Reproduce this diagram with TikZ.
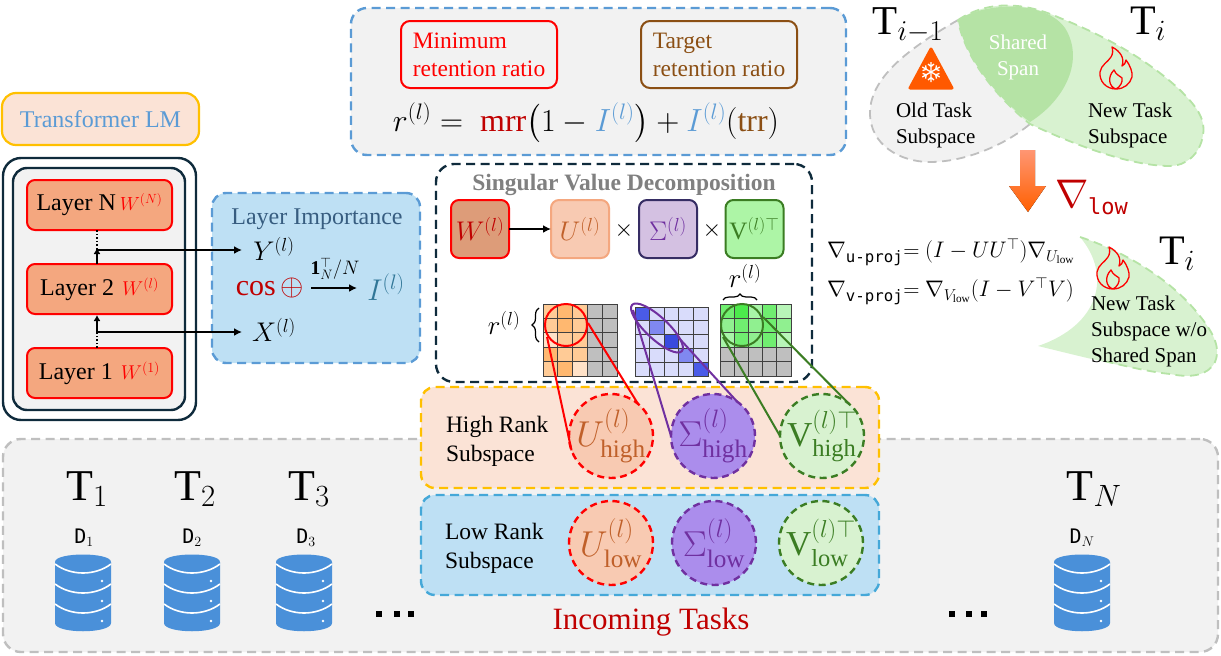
\RequirePackage{fix-cm}
\documentclass[tikz,border=0pt]{standalone}
\usepackage{amsmath}
\usepackage{amssymb}
\usepackage{fontspec}
\setmainfont{Liberation Serif}
\setmonofont{DejaVu Sans Mono}
\usetikzlibrary{arrows.meta,decorations.pathreplacing,shadings}

\definecolor{navy}{HTML}{0F2B3C}
\definecolor{panel}{HTML}{F2F2F2}
\definecolor{gold}{HTML}{FFC000}
\definecolor{peach}{HTML}{FBE3D6}
\definecolor{sky}{HTML}{BEE0F4}
\definecolor{dashblue}{HTML}{5B9BD5}
\definecolor{cyanb}{HTML}{45A8D8}
\definecolor{layerfill}{HTML}{F4A77F}
\definecolor{dred}{HTML}{C00000}
\definecolor{brn}{HTML}{8B4F14}
\definecolor{ublue}{HTML}{5B9BD5}
\definecolor{uor}{HTML}{C0602A}
\definecolor{purp}{HTML}{7030A0}
\definecolor{lav}{HTML}{AB8DEC}
\definecolor{grn}{HTML}{3B7D23}
\definecolor{lgreen}{HTML}{D8F2D0}
\definecolor{mgreen}{HTML}{B5E3A5}
\definecolor{dbblue}{HTML}{4A90D9}
\definecolor{gridgray}{HTML}{BFBFBF}
\definecolor{oa}{HTML}{FFCB96}
\definecolor{ob}{HTML}{FFB870}
\definecolor{oc}{HTML}{FFE2C8}
\definecolor{pa}{HTML}{4A5BE8}
\definecolor{pb}{HTML}{8088F0}
\definecolor{pc}{HTML}{3A4BE0}
\definecolor{pl}{HTML}{D9DCFB}
\definecolor{ga}{HTML}{70EE70}
\definecolor{gb}{HTML}{4CEB4C}
\definecolor{gc}{HTML}{A8F5A8}
\definecolor{gd}{HTML}{B8F5B8}
\definecolor{ge}{HTML}{90F090}

\newcommand{\fsz}[1]{\fontsize{#1}{#1}\selectfont}

\tikzset{
  box/.style={draw,rounded corners=#1,inner sep=0pt,outer sep=0pt,anchor=center,align=center},
  box/.default=9pt,
  dsh/.style={line width=2.4pt,dash pattern=on 9pt off 5.5pt},
  txt/.style={inner sep=0pt,outer sep=0pt,font=\fontsize{21}{26}\selectfont,align=left},
  rank/.style={inner sep=0pt,outer sep=0pt,font=\fontsize{23.5}{29}\selectfont,align=left,anchor=west},
  ratio/.style={box=9pt,line width=2pt,minimum width=156pt,minimum height=67pt,font=\fontsize{23.5}{28}\selectfont,align=left},
  big/.style={inner sep=0pt,font=\fsz{44}},
  layer/.style={box=8pt,draw=red,fill=layerfill,line width=2pt,minimum width=145pt,minimum height=50pt,font=\fsz{24}},
  mat/.style={box=8pt,line width=2pt,minimum width=58pt,minimum height=58pt,font=\fsz{27}},
  sub/.style={circle,draw=#1,dsh,dash pattern=on 7pt off 4.5pt,inner sep=-16pt,outer sep=0pt,minimum size=84pt,font=\fsz{36}},
  arr/.style={-{Latex[length=8pt,width=8pt]},line width=1.6pt},
  db/.pic={
    \fill[dbblue] (-28,-1) -- (-28,60) .. controls (-28,71) and (28,71) .. (28,60) -- (28,-1)
       .. controls (28,-11) and (-28,-11) .. (-28,-1) -- cycle;
    \foreach \s in {1,21,41} {
      \draw[white,line width=1.6pt] (-28,\s) .. controls (-12,\s+12) and (12,\s+12) .. (28,\s);
      \fill[white] (19,\s+17) circle (1.3pt);
    }
  },
  flame/.pic={
    \draw[red,line width=1.3pt,line join=round] (0,21) .. controls (-10,21) and (-17,13) .. (-16,4)
      .. controls (-15,-3) and (-8,-6) .. (-5,-11) .. controls (-3,-14) and (-3,-18) .. (-4,-21)
      .. controls (4,-17) and (9,-10) .. (6,-2) .. controls (8,-3) and (10,-5) .. (10,-8)
      .. controls (14,-3) and (17,5) .. (16,9) .. controls (14,16) and (8,21) .. (0,21)
      .. controls (-7,19) and (-9,9) .. (-2,2) .. controls (0,7) and (4,8) .. (6,10)
      .. controls (7,14) and (4,19) .. (0,21);
  },
}

\begin{document}
\begin{tikzpicture}[x=1pt,y=-1pt]
\useasboundingbox (0,0) rectangle (1221,656);

% incoming tasks panel
\node[box=18pt,draw=gridgray,fill=panel,dsh,minimum width=1215pt,minimum height=213pt] (tasks) at (610.5,545.5) {};
\node[font=\fsz{31},text=dred,inner sep=0pt] (inc) at (651,622) {Incoming Tasks};
\node[big] (t1) at (87,489) {$\mathrm{T}_1$};
\node[big] (t2) at (195,489) {$\mathrm{T}_2$};
\node[big] (t3) at (309,489) {$\mathrm{T}_3$};
\node[big] (tn) at (1094,489) {$\mathrm{T}_N$};
\node[inner sep=0pt,font=\fsz{20}] (d1) at (84,538) {$\mathtt{D}_1$};
\node[inner sep=0pt,font=\fsz{20}] (d2) at (192,538) {$\mathtt{D}_2$};
\node[inner sep=0pt,font=\fsz{20}] (d3) at (306,538) {$\mathtt{D}_3$};
\node[inner sep=0pt,font=\fsz{20}] (dn) at (1082,538) {$\mathtt{D}_N$};
\pic at (83,563) {db};
\pic at (192,563) {db};
\pic at (304,563) {db};
\pic at (1082,563) {db};
\foreach \x in {376,394,408} \fill (\x,610.5) rectangle +(5.5,6.5);
\foreach \x in {949,966,981} \fill (\x,610.5) rectangle +(5.5,6.5);

% transformer
\node[box=14pt,draw=gold,fill=peach,line width=2.2pt,minimum width=197pt,minimum height=52pt,font=\fsz{24},text=ublue] (lm) at (100.5,119) {Transformer LM};
\node[box=18pt,draw=navy,fill=white,line width=2.4pt,minimum width=193pt,minimum height=262pt] (outer) at (99.5,289) {};
\node[box=14pt,draw=navy,fill=panel,line width=2.4pt,minimum width=172pt,minimum height=242pt] (inner) at (99,289) {};
\node[layer] (ln) at (99.5,205) {Layer N\,{\fsz{19}\textcolor{red}{$W^{(N)}$}}};
\node[layer] (l2) at (99.5,289) {Layer 2\,\,{\fsz{20}\textcolor{red}{$W^{(l)}$}}};
\node[layer] (l1) at (99.5,373) {Layer 1\,\,{\fsz{20}\textcolor{red}{$W^{(1)}$}}};

% layer importance
\node[box=14pt,draw=dashblue,fill=sky,dsh,minimum width=208pt,minimum height=170pt] (imp) at (316,278) {};
\node[font=\fsz{24},text=ublue!60!black,inner sep=0pt] (impt) at (317,219) {Layer Importance};
\node[inner sep=0pt,font=\fsz{27}] (yl) at (274,249) {$Y^{(l)}$};
\node[inner sep=0pt,font=\fsz{27}] (xl) at (274,330) {$X^{(l)}$};
\node[inner sep=0pt,font=\fsz{30},text=dred] (cs) at (270,288) {$\cos\oplus$};
\node[inner sep=0pt,font=\fsz{30},text=cyanb!70!black] (il) at (386,287) {$I^{(l)}$};
\coordinate (ca) at (311,288);
\coordinate (cb) at (357,288);
\node[inner sep=0pt,font=\fsz{19.5}] (oneN) at (335,269) {$\mathbf{1}_N^{\top}/N$};

\coordinate (y0) at (97,250);
\coordinate (x0) at (97,332);
\coordinate (yup) at (97,248);
\coordinate (xup) at (97,315);
\coordinate (yend) at (242,250);
\coordinate (xend) at (242,332);
\draw[line width=1.6pt,dotted] (ln.south -| y0) -- (y0);
\draw[line width=1.6pt,dotted] (l1.north -| x0) -- (x0);
\draw[-{Latex[length=6pt,width=7pt]},line width=1.4pt] (l2.north -| y0) -- (yup);
\draw[-{Latex[length=6pt,width=7pt]},line width=1.4pt] (x0) -- (xup);
\draw[arr] (y0) -- (yend);
\draw[arr] (x0) -- (xend);
\draw[arr] (ca) -- (cb);

% retention ratio panel
\node[box=16pt,draw=dashblue,fill=panel,dsh,minimum width=495pt,minimum height=147pt] (ret) at (598.5,81.5) {};
\node[ratio,draw=red,text=red] (mrr) at (479,54.5) {Minimum\\retention ratio};
\node[ratio,draw=brn,text=brn] (trr) at (719,54.5) {Target\\retention ratio};
\node[inner sep=0pt,font=\fsz{32}] (eq) at (586,123) {$r^{(l)} =\ \textcolor{dred}{\mathrm{mrr}}\bigl(1-\textcolor{ublue}{I^{(l)}}\bigr)+\textcolor{ublue}{I^{(l)}}(\textcolor{brn}{\mathrm{trr}})$};

% svd panel
\node[box=18pt,draw=navy,fill=white,dsh,minimum width=376pt,minimum height=218pt] (svd) at (624,273) {};
\node[font=\fsz{23.5}\bfseries,text=gray,inner sep=0pt] (svdt) at (624,185) {Singular Value Decomposition};
\node[mat,draw=red,fill=layerfill!90!black!95,text=dred] (mw) at (480,229) {$W^{(l)}$};
\node[mat,draw=layerfill,fill=layerfill!60,text=uor] (mu) at (580,229) {$U^{(l)}$};
\node[mat,draw=navy!60!purp,fill=purp!30,text=purp] (ms) at (668,229) {$\Sigma^{(l)}$};
\node[mat,draw=grn,fill=green!20!lgreen,text=grn,font=\fsz{25}] (mv) at (754.5,229) {$\mathrm{V}^{(l)\top}$};
\node[inner sep=0pt,font=\fsz{24}] (x1) at (624,230) {$\times$};
\node[inner sep=0pt,font=\fsz{24}] (x2) at (712,230) {$\times$};
\draw[arr] (mw) -- (mu);

% grids
\foreach \cx/\ry/\col in {0/0/oa,1/0/ob,2/0/oa,0/1/oa,1/1/ob,2/1/oa,0/2/oc,1/2/oa,2/2/oa,0/3/ob,1/3/oa,2/3/oa,0/4/oa,1/4/ob,2/4/oc,3/0/gridgray,4/0/gridgray,3/1/gridgray,4/1/gridgray,3/2/gridgray,4/2/gridgray,3/3/gridgray,4/3/gridgray,3/4/gridgray,4/4/gridgray}
  \fill[\col] (543+14.8*\cx,304+14.4*\ry) rectangle +(14.8,14.4);
\draw[black!75,line width=.8pt] (543,304) rectangle (617,376);
\foreach \i in {1,...,4} {
  \draw[black!75,line width=.8pt] (543+14.8*\i,304) -- (543+14.8*\i,376);
  \draw[black!75,line width=.8pt] (543,304+14.4*\i) -- (617,304+14.4*\i);
}
\fill[pl] (635,307) rectangle (708,376);
\foreach \i/\col in {0/pa,1/pb,2/pc,3/pb,4/pa}
  \fill[\col] (635+14.6*\i,307+13.8*\i) rectangle +(14.6,13.8);
\draw[black!75,line width=.8pt] (635,307) rectangle (708,376);
\foreach \i in {1,...,4} {
  \draw[black!75,line width=.8pt] (635+14.6*\i,307) -- (635+14.6*\i,376);
  \draw[black!75,line width=.8pt] (635,307+13.8*\i) -- (708,307+13.8*\i);
}
\foreach \cx/\ry/\col in {0/0/ga,1/0/gb,2/0/gc,3/0/ga,4/0/gd,0/1/ge,1/1/ga,2/1/ge,3/1/ga,4/1/ge,0/2/gc,1/2/ga,2/2/ge,3/2/ga,4/2/gd}
  \fill[\col] (720+14.2*\cx,304+14.4*\ry) rectangle +(14.2,14.4);
\fill[gridgray] (720,347.2) rectangle (791,376);
\draw[black!75,line width=.8pt] (720,304) rectangle (791,376);
\foreach \i in {1,...,4} {
  \draw[black!75,line width=.8pt] (720+14.2*\i,304) -- (720+14.2*\i,376);
  \draw[black!75,line width=.8pt] (720,304+14.4*\i) -- (791,304+14.4*\i);
}
\node[inner sep=0pt,font=\fsz{27}] (rl) at (504,323) {$r^{(l)}$};
\node[inner sep=0pt,font=\fsz{27}] (rt) at (745,276) {$r^{(l)}$};
\draw[line width=1.2pt,decorate,decoration={brace,amplitude=7pt}] (539,342) -- (539,308);
\draw[line width=1.2pt,decorate,decoration={brace,amplitude=6pt}] (723,300) -- (757,300);

% subspace rows
\node[box=14pt,draw=gold,fill=peach,dsh,minimum width=458pt,minimum height=101pt] (high) at (650,437.5) {};
\node[box=14pt,draw=cyanb,fill=sky,dsh,minimum width=458pt,minimum height=100pt] (low) at (650,545) {};
\node[rank] (ht) at (446,441) {High Rank\\Subspace};
\node[rank] (lt) at (445,548) {Low Rank\\Subspace};
\node[sub=red,fill=layerfill!60,text=uor] (uh) at (611,436) {$U^{(l)}_{\mathrm{high}}$};
\node[sub=purp,fill=lav,text=purp] (sh) at (713,436) {$\Sigma^{(l)}_{\mathrm{high}}$};
\node[sub=grn,fill=lgreen,text=grn,font=\fsz{35}] (vh) at (822,436) {$\mathrm{V}^{(l)\top}_{\mathrm{high}}$};
\node[sub=red,fill=layerfill!60,text=uor] (ul) at (611,543) {$U^{(l)}_{\mathrm{low}}$};
\node[sub=purp,fill=lav,text=purp] (sl) at (714,543) {$\Sigma^{(l)}_{\mathrm{low}}$};
\node[sub=grn,fill=lgreen,text=grn,font=\fsz{35}] (vl) at (821,543) {$\mathrm{V}^{(l)\top}_{\mathrm{low}}$};

% rank circles and their leaders
\coordinate (cu) at (566,325);
\coordinate (cs1) at (657,328);
\coordinate (cv) at (742,325);
\coordinate (ua) at (547,337);
\coordinate (ub) at (588,323);
\coordinate (sa) at (633,310);
\coordinate (sb) at (678,337);
\coordinate (va) at (723,337);
\coordinate (vb) at (763,317);
\draw[red,line width=2pt] (cu) circle (21pt);
\draw[purp,line width=2pt,rotate around={-43:(cs1)}] (cs1) ellipse (34pt and 11pt);
\draw[grn,line width=2pt] (cv) circle (21pt);
\draw[red,line width=2pt] (ua) -- (uh.200);
\draw[red,line width=2pt] (ub) -- (uh.50);
\draw[purp,line width=2pt] (sa) -- (sh.180);
\draw[purp,line width=2pt] (sb) -- (sh.55);
\draw[grn,line width=2pt] (va) -- (vh.180);
\draw[grn,line width=2pt] (vb) -- (vh.50);

% task subspaces
\draw[gridgray,fill=panel,dsh,line width=1.8pt] (958,20) .. controls (915,45) and (870,75) .. (870,113)
   .. controls (870,145) and (900,162) .. (930,162) .. controls (965,162) and (1005,145) .. (1030,124);
\fill[lgreen] (958,20) .. controls (985,2) and (1020,0) .. (1060,18) .. controls (1110,38) and (1150,62) .. (1180,90)
   .. controls (1195,105) and (1206,118) .. (1203,135) .. controls (1200,155) and (1185,166) .. (1170,166)
   .. controls (1130,166) and (1075,145) .. (1030,124) .. controls (1000,100) and (965,60) .. (958,20) -- cycle;
\fill[mgreen] (958,20) .. controls (985,2) and (1045,0) .. (1065,28) .. controls (1085,60) and (1065,100) .. (1030,122)
   .. controls (1000,100) and (965,60) .. (958,20) -- cycle;
\draw[mgreen,dsh,line width=1.8pt] (958,20) .. controls (985,2) and (1020,0) .. (1060,18) .. controls (1110,38) and (1150,62) .. (1180,90)
   .. controls (1195,105) and (1206,118) .. (1203,135) .. controls (1200,155) and (1185,166) .. (1170,166)
   .. controls (1130,166) and (1075,145) .. (1030,124) .. controls (1000,100) and (965,60) .. (958,20);
\node[big,font=\fsz{41}] (tim) at (908,25) {$\mathrm{T}_{i-1}$};
\node[big,font=\fsz{42}] (ti) at (1148,24) {$\mathrm{T}_i$};
\node[txt,text=white,align=center,anchor=center] (sp) at (1018,57) {Shared\\Span};
\node[txt,anchor=west] (old) at (896,125) {Old Task\\Subspace};
\node[txt,anchor=west] (new) at (1088,125) {New Task\\Subspace};
\fill[orange!70!red,draw=orange!70!red,line width=3pt,line join=round] (910,88) -- (931,49) -- (952,88) -- cycle;
\begin{scope}[shift={(931,72)},white,line width=1.3pt]
  \foreach \a in {0,60,120,180,240,300} {
    \draw[rotate=\a] (0,0) -- (0,-10) (-3,-8) -- (0,-5.5) -- (3,-8);
  }
\end{scope}
\pic at (1116,68) {flame};

% down arrow
\fill[top color=orange!50!red!55,bottom color=orange!75!red] (1020,150) -- (1035,150) -- (1035,186) -- (1046,186) -- (1028,212) -- (1009,186) -- (1020,186) -- cycle;
\node[inner sep=0pt,anchor=base west,font=\fsz{40},text=dred] (nab) at (1055,207) {$\nabla$};
\node[inner sep=0pt,anchor=base west,font=\fsz{22}\ttfamily,text=dred] (nlow) at (1088,214) {low};

% projection formulas
\node[inner sep=0pt,anchor=west,font=\fsz{22.5}] (uproj) at (827,252) {$\nabla_{\texttt{u-proj}}{=}\ (I-UU^{\top})\nabla_{U_{\mathrm{low}}}$};
\node[inner sep=0pt,anchor=west,font=\fsz{22.5}] (vproj) at (827,291) {$\nabla_{\texttt{v-proj}}{=}\ \nabla_{V_{\mathrm{low}}}(I-V^{\top}V)$};

% new task without shared span
\fill[lgreen] (1080,237) .. controls (1120,250) and (1165,275) .. (1195,310) .. controls (1210,328) and (1222,345) .. (1215,362)
  .. controls (1208,376) and (1190,378) .. (1170,374) .. controls (1125,368) and (1075,355) .. (1038,346)
  .. controls (1100,325) and (1112,275) .. (1080,237) -- cycle;
\draw[mgreen,dsh,line width=1.8pt] (1080,237) .. controls (1120,250) and (1165,275) .. (1195,310) .. controls (1210,328) and (1222,345) .. (1215,362)
  .. controls (1208,376) and (1190,378) .. (1170,374) .. controls (1150,372) and (1125,366) .. (1100,360);
\node[big,font=\fsz{42}] (ti2) at (1177,254) {$\mathrm{T}_i$};
\pic at (1113,268) {flame};
\node[txt,anchor=west] (new2) at (1091,331) {New Task\\Subspace w/o\\Shared Span};
\end{tikzpicture}
\end{document}
